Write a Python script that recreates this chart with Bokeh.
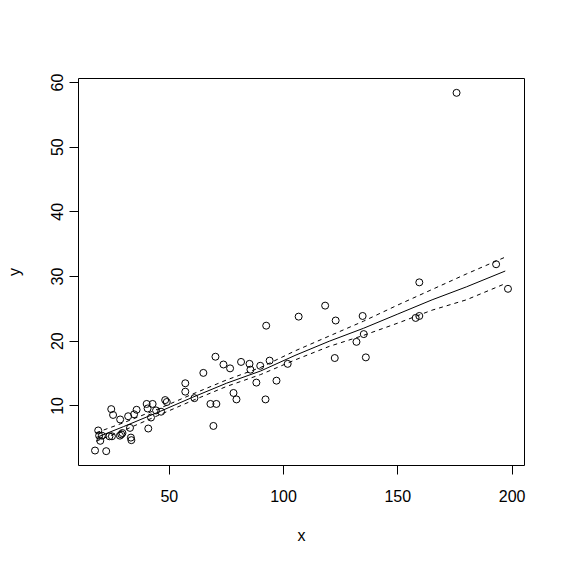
from bokeh.plotting import figure
from bokeh.models import Range1d, FixedTicker, ColumnDataSource
from bokeh.embed import file_html
from bokeh.resources import INLINE

# ---- data ----
x_vals = [17.5, 22.4, 18.9, 19.3, 20.5, 19.8, 23.8, 24.9, 28.4, 29.0,
          29.5, 33.2, 33.4, 32.8, 40.8, 24.6, 25.4, 28.5, 32.0, 34.6,
          35.7, 40.1, 40.5, 42.7, 44.2, 46.4, 42.0, 48.2, 48.9, 57.0,
          57.0, 61.0, 64.9, 70.2, 73.7, 76.6, 81.4, 85.1, 85.5, 88.1,
          78.1, 79.4, 68.0, 70.6, 69.3, 89.8, 93.9, 101.8, 92.4, 96.9,
          92.1, 106.6, 118.2, 122.8, 122.4, 131.9, 134.6, 135.1, 136.0, 157.8,
          159.4, 159.4, 193.0, 198.2, 175.7]
y_vals = [3.1, 3.0, 6.2, 5.4, 5.4, 4.6, 5.3, 5.3, 5.4, 5.6,
          5.8, 5.1, 4.7, 6.6, 6.5, 9.5, 8.6, 7.9, 8.4, 8.7,
          9.4, 10.3, 9.6, 10.3, 9.3, 9.1, 8.2, 10.9, 10.6, 13.5,
          12.2, 11.2, 15.1, 17.6, 16.4, 15.8, 16.8, 16.5, 15.6, 13.6,
          12.0, 11.0, 10.3, 10.3, 6.9, 16.2, 17.0, 16.5, 22.4, 13.9,
          11.0, 23.8, 25.5, 23.2, 17.4, 19.9, 23.9, 21.1, 17.5, 23.6,
          23.9, 29.1, 31.9, 28.1, 58.4]

fit_x = [18, 30, 45, 60, 75, 90, 105, 120, 135, 150, 165, 180, 197]
fit_y = [5.1, 6.8, 9.0, 11.3, 13.5, 15.4, 17.8, 20.0, 22.0, 24.2, 26.4, 28.4, 30.85]
upper_y = [5.85, 7.4, 9.5, 11.8, 14.0, 15.95, 18.5, 20.8, 23.1, 25.6, 28.0, 30.4, 33.0]
lower_y = [4.55, 6.2, 8.5, 10.8, 13.0, 14.85, 17.1, 19.2, 20.9, 22.8, 24.8, 26.4, 28.9]

x_ticks = [50, 100, 150, 200]
y_ticks = [10, 20, 30, 40, 50, 60]

# R-style 4% range extension
def ext(vals):
    lo, hi = min(vals), max(vals)
    d = (hi - lo) * 0.04
    return lo - d, hi + d

xr = ext(x_vals)
yr = ext(y_vals)

FONT = "Liberation Sans"

p = figure(width=564, height=563, output_backend="svg", toolbar_location=None,
           x_range=Range1d(*xr), y_range=Range1d(*yr),
           min_border_left=78, min_border_right=40,
           min_border_top=78, min_border_bottom=98)

p.grid.visible = False
p.outline_line_color = "black"
p.outline_line_width = 1
p.background_fill_color = "white"
p.border_fill_color = "white"

src = ColumnDataSource(dict(x=x_vals, y=y_vals))
p.scatter("x", "y", source=src, marker="circle", size=7,
          fill_color=None, line_color="black", line_width=1)

p.line(fit_x, fit_y, line_color="black", line_width=1)
p.line(fit_x, upper_y, line_color="black", line_width=1, line_dash="4 4")
p.line(fit_x, lower_y, line_color="black", line_width=1, line_dash="4 4")

for ax in (p.xaxis[0], p.yaxis[0]):
    ax.axis_line_color = None
    ax.major_tick_in = 0
    ax.major_tick_out = 9
    ax.minor_tick_in = 0
    ax.minor_tick_out = 0
    ax.major_tick_line_color = "black"
    ax.major_label_text_font = FONT
    ax.major_label_text_font_size = "16px"
    ax.major_label_text_color = "black"
    ax.axis_label_text_font = FONT
    ax.axis_label_text_font_size = "16px"
    ax.axis_label_text_font_style = "normal"
    ax.axis_label_text_color = "black"

p.xaxis.ticker = FixedTicker(ticks=x_ticks)
p.yaxis.ticker = FixedTicker(ticks=y_ticks)
p.xaxis.axis_label = "x"
p.yaxis.axis_label = "y"
p.xaxis.major_label_standoff = 15
p.yaxis.major_label_standoff = 6
p.yaxis.major_label_orientation = "vertical"
p.xaxis.axis_label_standoff = 22
p.yaxis.axis_label_standoff = 26

open("out.html", "w").write(file_html(p, INLINE))
